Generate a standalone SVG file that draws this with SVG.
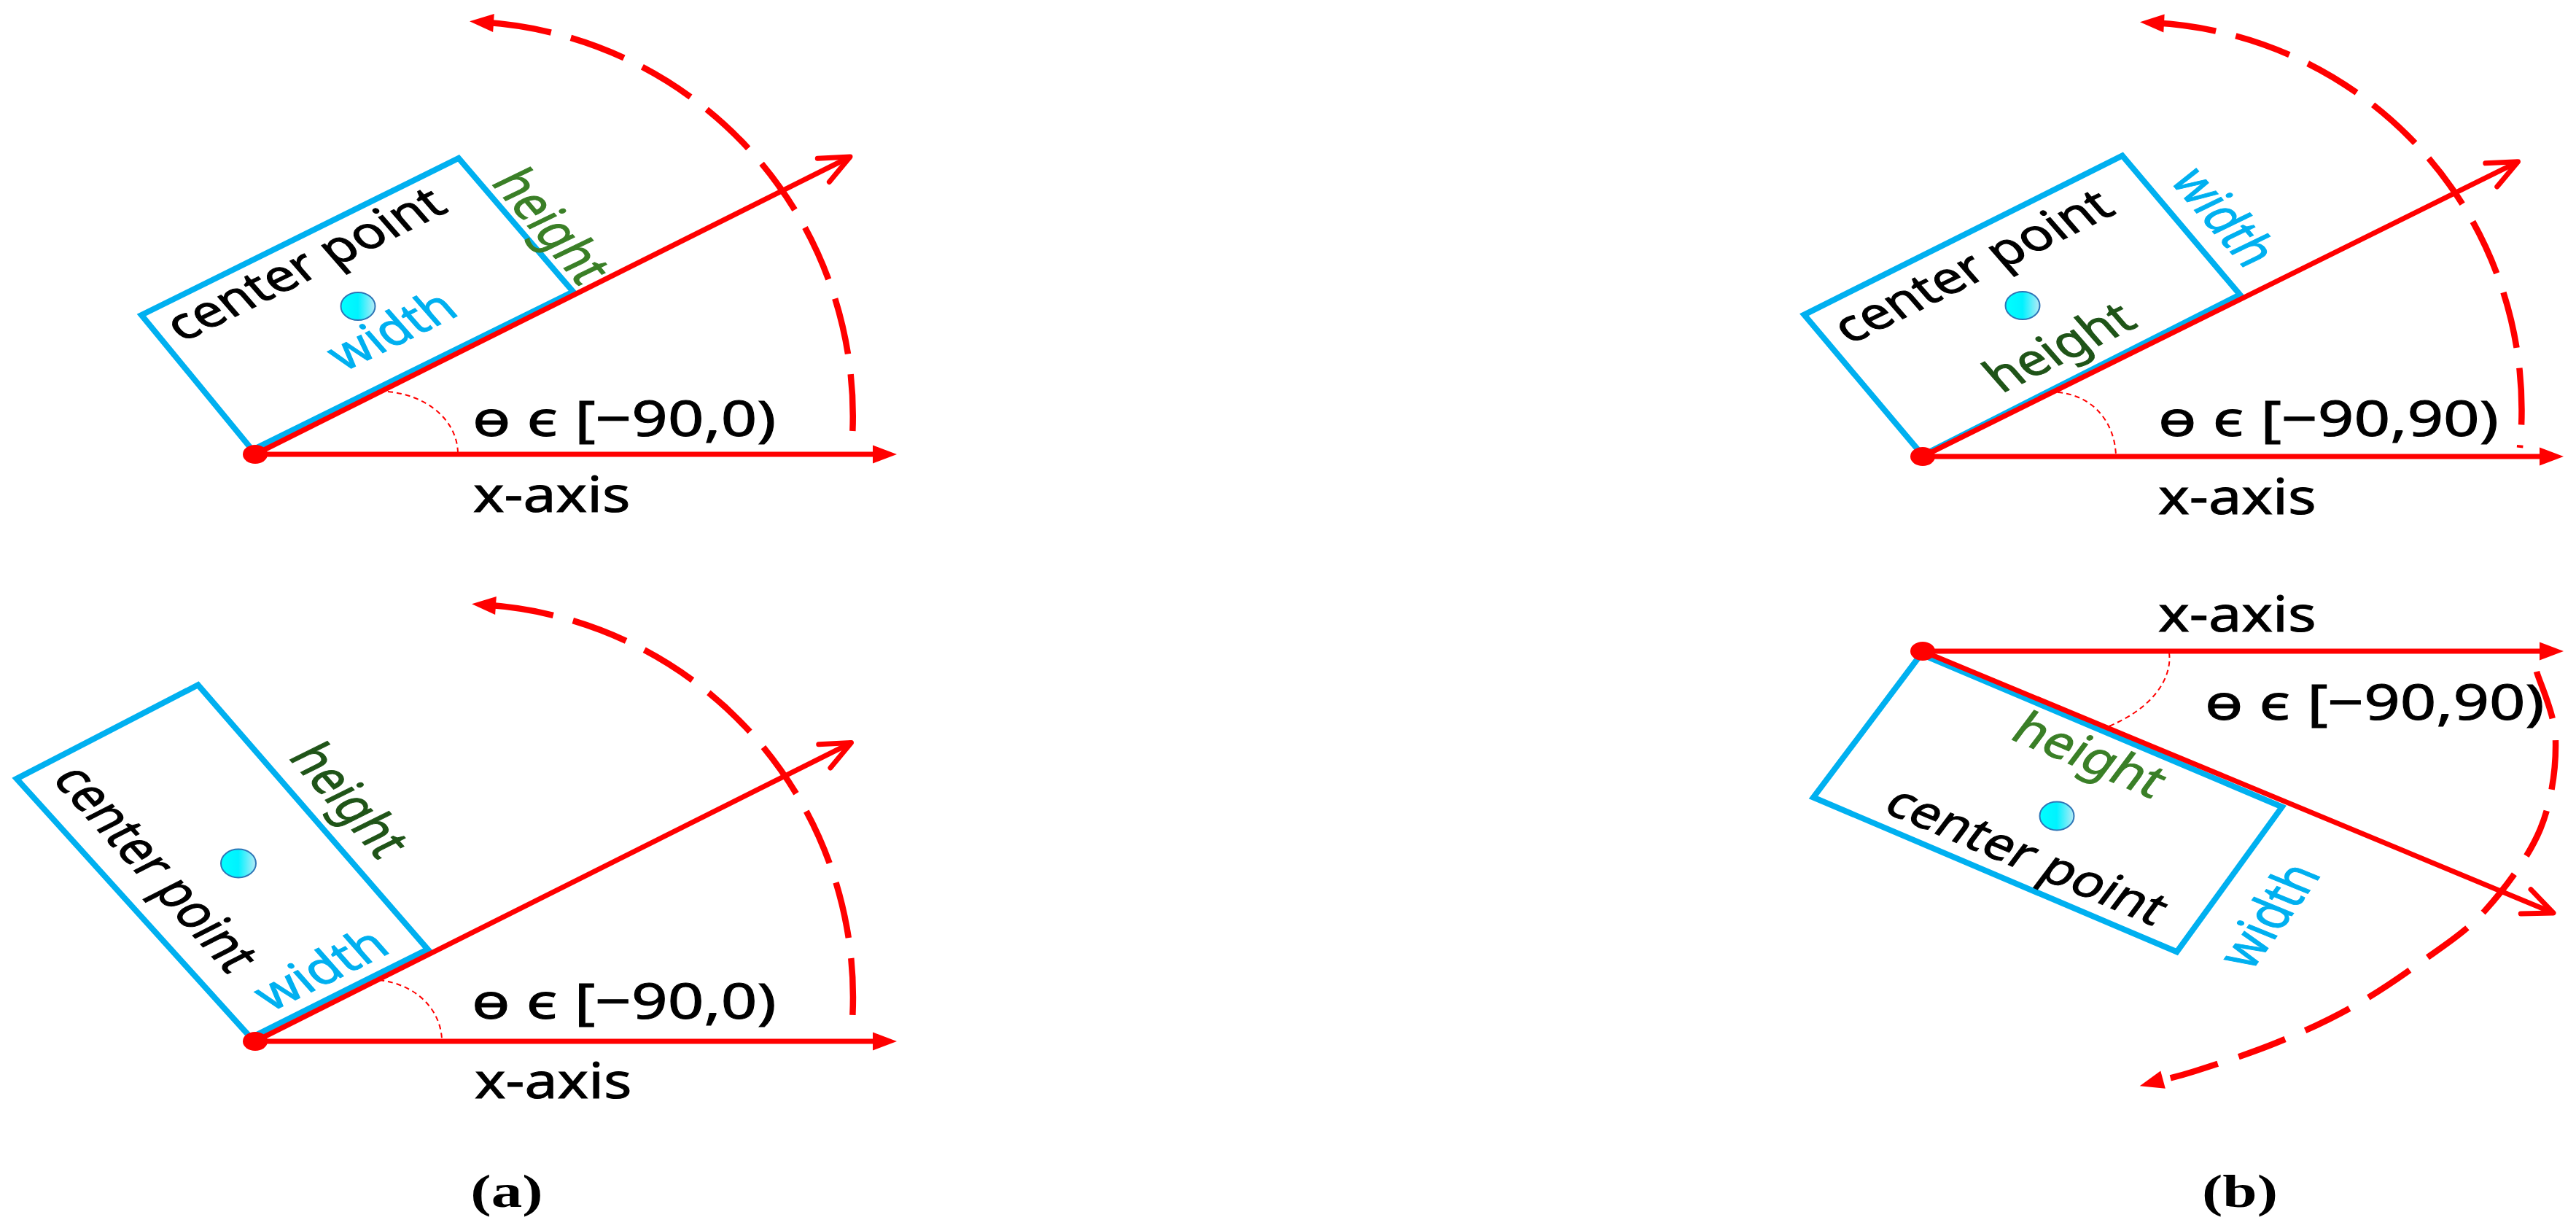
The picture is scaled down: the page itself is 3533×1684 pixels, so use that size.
<svg xmlns="http://www.w3.org/2000/svg" width="3533" height="1684" viewBox="0 0 3533 1684">
<defs>
  <linearGradient id="cg" x1="0" y1="0" x2="1" y2="0">
    <stop offset="0" stop-color="#00FFFF"/>
    <stop offset="0.5" stop-color="#00F2FF"/>
    <stop offset="1" stop-color="#B8EAF6"/>
  </linearGradient>
  <marker id="tri" markerUnits="userSpaceOnUse" viewBox="-20 -20 50 40" markerWidth="50" markerHeight="40" refX="0" refY="0" orient="auto" overflow="visible">
    <path d="M20,0 L-13,-12.5 L-13,12.5 Z" fill="#FF0000"/>
  </marker>
  <marker id="triS" markerUnits="userSpaceOnUse" viewBox="-20 -20 50 40" markerWidth="50" markerHeight="40" refX="0" refY="0" orient="auto-start-reverse" overflow="visible">
    <path d="M20,0 L-13,-12.5 L-13,12.5 Z" fill="#FF0000"/>
  </marker>
  <marker id="vee" markerUnits="userSpaceOnUse" viewBox="-50 -25 60 50" markerWidth="60" markerHeight="50" refX="0" refY="0" orient="auto" overflow="visible">
    <path d="M-41,-18 L0,0 L-41,18" fill="none" stroke="#FF0000" stroke-width="7" stroke-linecap="round" stroke-linejoin="round"/>
  </marker>
</defs>
<style>
  .box{fill:none;stroke:#00B0F0;stroke-width:8;stroke-linejoin:miter}
  .axis{stroke:#FF0000;stroke-width:7;fill:none}
  .diag{stroke:#FF0000;stroke-width:7;fill:none}
  .arc{stroke:#FF0000;stroke-width:8.5;fill:none}
  .ang{stroke:#FF0000;stroke-width:2;fill:none;stroke-dasharray:7 5}
  .dot{fill:#FF0000}
  .cdot{fill:url(#cg);stroke:#2E75B6;stroke-width:2}
  text{font-family:"Noto Sans","Open Sans",sans-serif;stroke-width:1}
  .lbl{font-size:68px;fill:#000;stroke:#000}
  .rl{font-size:61px}
  .blk{fill:#000;stroke:#000}
  .cy{fill:#00B0F0;stroke:#00B0F0}
  .gm{fill:#3A7F27;stroke:#3A7F27}
  .gd{fill:#1F5418;stroke:#1F5418}
  .cap{font-family:"Liberation Serif","Times New Roman",serif;font-size:64px;font-weight:bold;fill:#000;stroke:none}
</style>

<!-- Panel (a) top -->
<g id="a-top">
  <g id="a-top-box">
    <polygon class="box" points="194,432 629,217 786,400 346,617"/>
    <ellipse class="cdot" cx="491" cy="420" rx="23.5" ry="19"/>
    <text class="rl blk" transform="translate(250,470) scale(1.33,1) rotate(-33.3)" textLength="330" lengthAdjust="spacingAndGlyphs">center point</text>
    <text class="rl cy" transform="translate(472,510) scale(1.33,1) rotate(-33.3)" textLength="144" lengthAdjust="spacingAndGlyphs">width</text>
    <text class="rl gm" transform="translate(672,250) scale(1.33,1) rotate(57.2)" textLength="170" lengthAdjust="spacingAndGlyphs">height</text>
  </g>
  <g id="a-top-labels">
    <text class="lbl" transform="translate(648,598) scale(1.33,1)" textLength="313" lengthAdjust="spacingAndGlyphs">ө є [−90,0)</text>
    <text class="lbl" transform="translate(649,702) scale(1.33,1)" textLength="162" lengthAdjust="spacingAndGlyphs">x-axis</text>
  </g>
</g>

<!-- Panel (a) bottom -->
<g id="a-bottom">
  <g id="a-bottom-box">
    <polygon class="box" points="22.8,1067.9 271.6,939.3 586.6,1301.8 344,1423"/>
    <ellipse class="cdot" cx="327" cy="1184" rx="24" ry="19.5"/>
    <text class="rl blk" transform="translate(70,1068) scale(1.33,1) rotate(55.8)" textLength="325" lengthAdjust="spacingAndGlyphs">center point</text>
    <text class="rl gd" transform="translate(394,1038) scale(1.33,1) rotate(56.5)" textLength="170" lengthAdjust="spacingAndGlyphs">height</text>
    <text class="rl cy" transform="translate(372,1388) scale(1.33,1) rotate(-33.6)" textLength="150" lengthAdjust="spacingAndGlyphs">width</text>
  </g>
  <g id="a-bottom-labels">
    <text class="lbl" transform="translate(647,1397) scale(1.33,1)" textLength="314" lengthAdjust="spacingAndGlyphs">ө є [−90,0)</text>
    <text class="lbl" transform="translate(651,1506) scale(1.33,1)" textLength="162" lengthAdjust="spacingAndGlyphs">x-axis</text>
  </g>
</g>

<!-- Panel (b) top -->
<g id="b-top">
  <g id="b-top-box">
    <polygon class="box" points="2474.4,431.6 2910.8,213.5 3072,404 2637,624.4"/>
    <ellipse class="cdot" cx="2774" cy="419" rx="23.5" ry="19"/>
    <text class="rl blk" transform="translate(2537,473) scale(1.33,1) rotate(-33.3)" textLength="330" lengthAdjust="spacingAndGlyphs">center point</text>
    <text class="rl gd" transform="translate(2745,540) scale(1.33,1) rotate(-33.3)" textLength="170" lengthAdjust="spacingAndGlyphs">height</text>
    <text class="rl cy" transform="translate(2975,248) scale(1.33,1) rotate(57.2)" textLength="145" lengthAdjust="spacingAndGlyphs">width</text>
  </g>
  <g id="b-top-labels">
    <text class="lbl" transform="translate(2960,598) scale(1.33,1)" textLength="351" lengthAdjust="spacingAndGlyphs">ө є [−90,90)</text>
    <text class="lbl" transform="translate(2960,705) scale(1.33,1)" textLength="163" lengthAdjust="spacingAndGlyphs">x-axis</text>
  </g>
</g>

<!-- Panel (b) bottom -->
<g id="b-bottom">
  <g id="b-bottom-box">
    <polygon class="box" points="2634.8,897 3129.8,1106.5 2985.5,1305.3 2487,1093.5"/>
    <ellipse class="cdot" cx="2821" cy="1119" rx="23.5" ry="19.5"/>
    <text class="rl gm" transform="translate(2754,1012) scale(1.33,1) rotate(29.4)" textLength="170" lengthAdjust="spacingAndGlyphs">height</text>
    <text class="rl blk" transform="translate(2580,1112) scale(1.33,1) rotate(29.4)" textLength="322" lengthAdjust="spacingAndGlyphs">center point</text>
    <text class="rl cy" transform="translate(3088,1332) scale(1.33,1) rotate(-61.4)" textLength="152" lengthAdjust="spacingAndGlyphs">width</text>
  </g>
  <g id="b-bottom-labels">
    <text class="lbl" transform="translate(2960,866) scale(1.33,1)" textLength="163" lengthAdjust="spacingAndGlyphs">x-axis</text>
    <text class="lbl" transform="translate(3024,987) scale(1.33,1)" textLength="350" lengthAdjust="spacingAndGlyphs">ө є [−90,90)</text>
  </g>
</g>

<!-- Connectors -->
<g id="connectors">
  <path class="axis" d="M350,623 H1210" marker-end="url(#tri)"/>
  <path class="axis" d="M350,1428 H1210" marker-end="url(#tri)"/>
  <path class="axis" d="M2637,626 H3496" marker-end="url(#tri)"/>
  <path class="axis" d="M2637,893 H3496" marker-end="url(#tri)"/>
  <path class="diag" d="M350,623 L1166,215" marker-end="url(#vee)"/>
  <path class="diag" d="M350,1428 L1167.5,1018.5" marker-end="url(#vee)"/>
  <path class="diag" d="M2637,626 L3453.5,221.8" marker-end="url(#vee)"/>
  <path class="diag" d="M2637,893 L3502,1252" marker-end="url(#vee)"/>
  <path class="ang" d="M532,537 C585,542 626,575 628,620"/>
  <path class="ang" d="M520,1344 C572,1350 604,1385 606,1425"/>
  <path class="ang" d="M2822,538 C2870,542 2900,578 2902,624"/>
  <path class="ang" d="M2975,895 C2980,935 2945,975 2892,996"/>
  <path class="arc" d="M664,30.6 A541,541 0 0 1 1168,614" marker-start="url(#triS)" stroke-dasharray="93 28 78 28 78 28 78 28 78 28 78 28 78 28 78 28 78 28 78 28"/>
  <path class="arc" d="M667,829.6 A539,539 0 0 1 1168,1413" marker-start="url(#triS)" stroke-dasharray="93 28 78 28 78 28 78 28 78 28 78 28 78 28 78 28 78 28 78 28"/>
  <path class="arc" d="M2955,31.3 A532,532 0 0 1 3456,614" marker-start="url(#triS)" stroke-dasharray="85 28 78 28 78 28 78 28 78 28 78 28 78 28 78 28 78 28 78 28"/>
  <path class="arc" d="M3479,921 C3483.3,936.7 3504.2,979 3505,1015 C3505.8,1051 3500.2,1098 3484,1137 C3467.8,1176 3435.7,1218.3 3408,1249 C3380.3,1279.7 3348.7,1298.8 3318,1321 C3287.3,1343.2 3256.7,1363.8 3224,1382 C3191.3,1400.2 3157.7,1415.5 3122,1430 C3086.3,1444.5 3041.2,1459.2 3010,1469 C2978.8,1478.8 2965,1481 2954,1484" marker-end="url(#tri)" stroke-dasharray="68 30"/>
</g>

<g id="origins">
  <ellipse class="dot" cx="350" cy="623" rx="17" ry="13"/>
  <ellipse class="dot" cx="350" cy="1428" rx="17" ry="13"/>
  <ellipse class="dot" cx="2637" cy="626" rx="17" ry="13"/>
  <ellipse class="dot" cx="2637" cy="893" rx="17" ry="13"/>
</g>

<g id="captions">
  <text class="cap" text-anchor="middle" transform="translate(695,1655) scale(1.33,1)">(a)</text>
  <text class="cap" text-anchor="middle" transform="translate(3072,1655) scale(1.33,1)">(b)</text>
</g>
</svg>
